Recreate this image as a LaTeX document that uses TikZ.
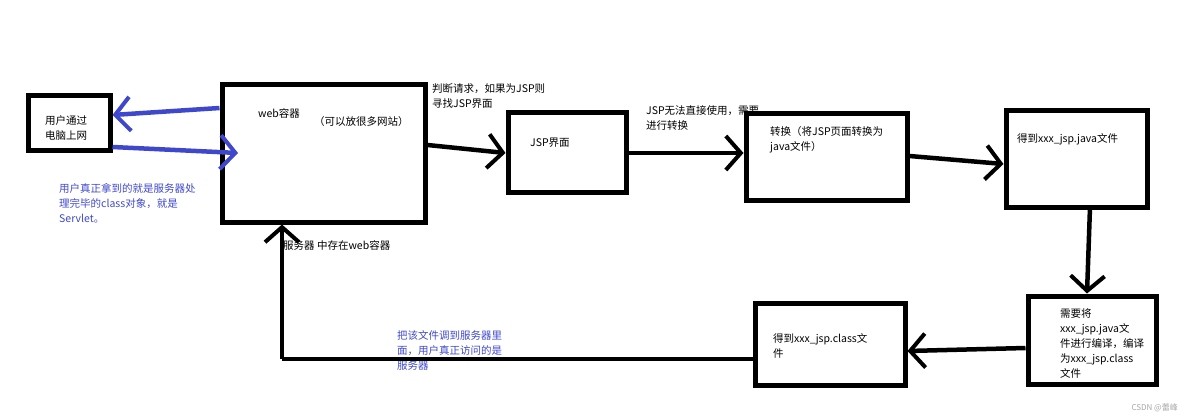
\documentclass[tikz,border=0pt]{standalone}
\usepackage{fontspec}
\setmainfont{Noto Sans CJK SC}
\usetikzlibrary{arrows.meta}
\definecolor{pblue}{RGB}{63,72,204}
\tikzset{
  box/.style={draw=black,line width=5pt,inner sep=0pt},
  con/.style={line width=4.5pt,-{Straight Barb[length=15pt,width=34pt,line width=4pt]}},
  bcon/.style={con,draw=pblue},
  txt/.style={font=\fontsize{10.5pt}{15pt}\selectfont,align=left,anchor=north west,inner sep=0pt},
  btxt/.style={txt,text=pblue}
}
\begin{document}
\begin{tikzpicture}[x=1pt,y=-1pt]
\useasboundingbox (0,0) rectangle (1191,420);
\node[box,minimum width=82pt,minimum height=55pt] (user) at (69,122.5) {};
\node[box,minimum width=203pt,minimum height=138pt] (web) at (323.5,153) {};
\node[box,minimum width=118pt,minimum height=80pt] (jsp) at (567,152) {};
\node[box,minimum width=161pt,minimum height=87pt] (conv) at (826.5,156.5) {};
\node[box,minimum width=141pt,minimum height=97pt] (java) at (1076.5,158.5) {};
\node[box,minimum width=128pt,minimum height=88pt] (comp) at (1092,340) {};
\node[box,minimum width=150pt,minimum height=82pt] (cls) at (830,344) {};
\coordinate (corner) at (282,359);
% texts
\node[txt] (t1) at (45,115) {用户通过\\电脑上网};
\node[txt] (t2) at (258,108) {web容器};
\node[txt] (t3) at (314,116) {（可以放很多网站）};
\node[txt] (t4) at (432,83) {判断请求，如果为JSP则\\寻找JSP界面};
\node[txt] (t5) at (530,138) {JSP界面};
\node[txt] (t6) at (646,105) {JSP无法直接使用，需要\\进行转换};
\node[txt] (t7) at (770,126) {转换（将JSP页面转换为\\java文件）};
\node[txt] (t8) at (1017,133) {得到xxx\_jsp.java文件};
\node[txt] (t9) at (1060,308) {需要将\\xxx\_jsp.java文\\件进行编译，编译\\为xxx\_jsp.class\\文件};
\node[txt] (t10) at (773,333) {得到xxx\_jsp.class文\\件};
\node[txt] (t11) at (283,240) {服务器 中存在web容器};
\node[btxt] (t12) at (59,183) {用户真正拿到的就是服务器处\\理完毕的class对象，就是\\Servlet。};
\node[btxt] (t13) at (397,330) {把该文件调到服务器里\\面，用户真正访问的是\\服务器};
\node[anchor=south east,inner sep=0pt,text=gray!70,font=\fontsize{8pt}{9pt}\selectfont] (wm) at (1178,412) {CSDN @蕾峰};
% connectors
\draw[bcon] (web.west|-0,108) -- (user.east|-0,115);
\draw[bcon] (user.east|-0,147) -- (238,153);
\draw[con] (web.east|-0,145) -- (jsp.west|-0,153);
\draw[con] (jsp.east|-0,153) -- (conv.west|-0,153);
\draw[con] (conv.east|-0,156) -- (java.west|-0,164);
\draw[con] (1090,207) -- (comp.north-|1087,0);
\draw[con] (comp.west|-0,348) -- (cls.east|-0,351);
\draw[line width=4.5pt] (cls.west|-corner) -- (corner);
\draw[con] (corner) -- (web.south-|corner);
\end{tikzpicture}
\end{document}
